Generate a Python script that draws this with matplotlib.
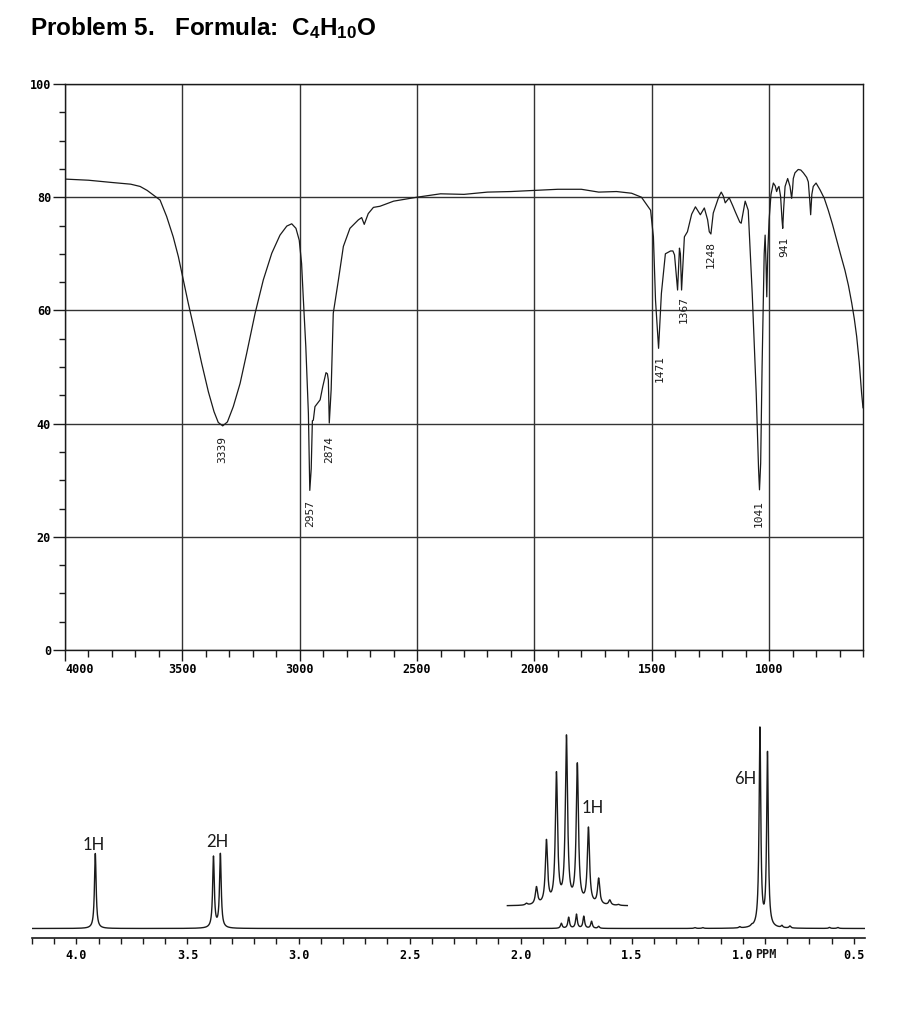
import numpy as np
import matplotlib
matplotlib.use("Agg")
import matplotlib.pyplot as plt
from matplotlib.ticker import FixedLocator, MultipleLocator
from matplotlib.transforms import blended_transform_factory

# ---------------- IR data ----------------
ir_wavenumber = [4000, 3900, 3800, 3720, 3680, 3650, 3624, 3595, 3567, 3539,
                 3517, 3499, 3475, 3446, 3418, 3389, 3365, 3347, 3328, 3308,
                 3283, 3254, 3226, 3190, 3155, 3119, 3084, 3055, 3034, 3016,
                 3002, 2992, 2985, 2974, 2963, 2957, 2951, 2946, 2942, 2935,
                 2913, 2902, 2888, 2882, 2878, 2874, 2866, 2857, 2835, 2814,
                 2786, 2750, 2736, 2725, 2708, 2686, 2658, 2600, 2500, 2400,
                 2300, 2200, 2100, 2000, 1900, 1800, 1726, 1650, 1586, 1544,
                 1505, 1493, 1484, 1471, 1459, 1442, 1420, 1410, 1403, 1390,
                 1382, 1378, 1373, 1361, 1348, 1330, 1314, 1293, 1276, 1262,
                 1255, 1248, 1238, 1215, 1204, 1195, 1187, 1170, 1155, 1144,
                 1125, 1119, 1110, 1102, 1089, 1080, 1072, 1055, 1045, 1041,
                 1036, 1030, 1021, 1017, 1013, 1010, 1006, 1000, 992, 982,
                 974, 968, 963, 958, 951, 945, 942, 938, 932, 921,
                 911, 904, 900, 897, 890, 876, 865, 854, 840, 833,
                 827, 823, 818, 812, 800, 783, 765, 748, 730, 712,
                 695, 677, 662, 648, 637, 627, 616, 606, 600]
ir_transmittance = [83.2, 83.0, 82.6, 82.3, 81.9, 81.2, 80.4, 79.5, 76.6, 73.0,
                    69.5, 66.0, 61.3, 56.0, 50.7, 45.6, 42.1, 40.2, 39.6, 40.3,
                    43.0, 47.1, 52.4, 59.5, 65.4, 70.1, 73.3, 74.9, 75.3, 74.5,
                    72.4, 68.3, 62.4, 53.6, 41.8, 28.2, 32.0, 40.5, 40.6, 43.0,
                    44.2, 46.5, 49.0, 48.8, 47.7, 40.1, 46.0, 59.5, 65.4, 71.3,
                    74.5, 76.0, 76.4, 75.2, 77.1, 78.2, 78.4, 79.3, 80.0, 80.6,
                    80.5, 80.9, 81.0, 81.2, 81.4, 81.4, 80.9, 81.0, 80.7, 80.0,
                    77.7, 73.0, 61.8, 53.3, 63.0, 70.0, 70.5, 70.5, 69.8, 63.6,
                    71.0, 70.0, 63.6, 73.0, 73.9, 77.0, 78.3, 76.9, 78.1, 76.0,
                    73.9, 73.5, 77.2, 80.0, 80.9, 80.2, 79.0, 79.9, 78.5, 77.4,
                    75.6, 75.4, 77.5, 79.3, 77.7, 70.0, 63.0, 45.4, 32.0, 28.3,
                    33.0, 50.0, 70.0, 73.3, 68.0, 62.4, 70.0, 76.0, 80.5, 82.5,
                    82.0, 81.0, 81.6, 81.9, 80.1, 76.0, 74.5, 78.0, 81.9, 83.3,
                    81.9, 79.8, 81.5, 83.3, 84.3, 84.9, 84.8, 84.3, 83.5, 82.7,
                    79.5, 76.9, 80.5, 81.9, 82.5, 81.3, 79.8, 77.7, 75.2, 72.4,
                    69.8, 67.1, 64.4, 61.3, 58.5, 55.4, 50.8, 45.4, 42.8]
ir_peak_labels = [3339, 2957, 2874, 1471, 1367, 1248, 1041, 941]
ir_peak_label_pos = [3330, 2957, 2874, 1465, 1362, 1250, 1043, 937]
ir_peak_label_top = [37.8, 26.5, 37.8, 52.2, 62.5, 72.2, 26.5, 73.0]
ir_xticks = [4000, 3500, 3000, 2500, 2000, 1500, 1000]
ir_yticks = [0, 20, 40, 60, 80, 100]

# ---------------- NMR data ----------------
nmr_peak_ppm = [3.915, 3.383, 3.352,
                1.817, 1.784, 1.749, 1.716, 1.681, 1.649,
                0.923, 0.889,
                1.216, 1.180, 1.014, 0.960, 0.824, 0.788, 0.610, 0.572]
nmr_peak_height = [75, 71, 74,
                   5, 11, 14, 12, 7, 2,
                   199, 174,
                   0.8, 0.8, 1.2, 1.2, 2.0, 2.0, 1.0, 1.0]
nmr_inset_ppm = [1.974, 1.929, 1.884, 1.839, 1.794, 1.745, 1.695, 1.649, 1.599, 1.560]
nmr_inset_height = [1.7, 17.3, 63, 129.7, 166.3, 139, 75.7, 25.7, 5.0, 1.0]
nmr_inset_span = [2.06, 1.52]
nmr_integral_text = ["1H", "2H", "1H", "6H"]
nmr_integral_ppm = [3.923, 3.365, 1.676, 0.991]
nmr_integral_y = [93, 96, 130, 159]
nmr_ticks = [4.0, 3.5, 3.0, 2.5, 2.0, 1.5, 1.0, 0.5]
nmr_ticklabels = ["4.0", "3.5", "3.0", "2.5", "2.0", "1.5", "1.0", "0.5"]

W, H = 897, 1024
fig = plt.figure(figsize=(W / 100, H / 100), dpi=100)
fig.patch.set_facecolor("white")

mono = "DejaVu Sans Mono"
ink = "#1a1a1a"

# Title
fig.text(30 / W, 1 - 28 / H, r"Problem 5.   Formula:  C$\mathregular{_4}$H$\mathregular{_{10}}$O",
         fontsize=17.5, fontweight="heavy", family="Liberation Sans", va="center", ha="left")

# ---------------- IR axes ----------------
L, R, T, B = 65, 863, 84, 650
ax = fig.add_axes([L / W, 1 - B / H, (R - L) / W, (B - T) / H])
ax.plot(ir_wavenumber, ir_transmittance, color=ink, lw=0.9)
ax.set_xlim(4000, 600)
ax.set_ylim(0, 100)
ax.xaxis.set_major_locator(FixedLocator(ir_xticks))
ax.xaxis.set_minor_locator(FixedLocator([w for w in range(4000, 599, -100) if w not in ir_xticks]))
ax.yaxis.set_major_locator(FixedLocator(ir_yticks))
ax.yaxis.set_minor_locator(MultipleLocator(5))
ax.set_xticklabels([str(v) for v in ir_xticks], family=mono, fontsize=8.5, fontweight="bold")
ax.set_yticklabels([str(v) for v in ir_yticks], family=mono, fontsize=8.5, fontweight="bold")
ax.tick_params(axis="x", which="major", direction="out", length=8, width=1, pad=1.5, color=ink)
ax.tick_params(axis="x", which="minor", direction="out", length=5, width=1, color=ink)
ax.tick_params(axis="y", which="major", direction="out", length=9, width=1, pad=1, color=ink)
ax.tick_params(axis="y", which="minor", direction="out", length=4.5, width=1, color=ink)
xt = ax.get_xticklabels()
xt[0].set_horizontalalignment("left")
ax.grid(True, which="major", color="#333333", lw=1.0)
for s in ax.spines.values():
    s.set_color(ink)
    s.set_linewidth(1.0)
for lab, xp, yt in zip(ir_peak_labels, ir_peak_label_pos, ir_peak_label_top):
    ax.text(xp, yt, str(lab), rotation=90, ha="center", va="top",
            family=mono, fontsize=8, color=ink)

# ---------------- NMR axes ----------------
NL, NR, NT, NB = 32, 865, 700, 938
nx = fig.add_axes([NL / W, 1 - NB / H, (NR - NL) / W, (NB - NT) / H])
ppm = np.linspace(4.2, 0.45, 6000)
baseline = 9.5
gamma = 0.0045
spec = np.full_like(ppm, baseline)
for p, h in zip(nmr_peak_ppm, nmr_peak_height):
    spec += h * gamma**2 / ((ppm - p) ** 2 + gamma**2)
nx.plot(ppm, spec, color=ink, lw=1.0)

inset_base = 32
ig = 0.006
ippm = np.linspace(nmr_inset_span[0], nmr_inset_span[1], 1500)
ispec = np.full_like(ippm, inset_base)
for p, h in zip(nmr_inset_ppm, nmr_inset_height):
    ispec += h * ig**2 / ((ippm - p) ** 2 + ig**2)
nx.plot(ippm, ispec, color=ink, lw=1.0)

for t, p, y in zip(nmr_integral_text, nmr_integral_ppm, nmr_integral_y):
    nx.text(p, y, t, ha="center", va="center", family="Lato", fontsize=12, color=ink)

nx.set_xlim(4.2, 0.45)
nx.set_ylim(0, NB - NT)
for k in ["left", "right", "top"]:
    nx.spines[k].set_visible(False)
nx.spines["bottom"].set_color(ink)
nx.spines["bottom"].set_linewidth(1.2)
nx.set_yticks([])
nx.xaxis.set_major_locator(FixedLocator(nmr_ticks))
nx.xaxis.set_minor_locator(MultipleLocator(0.1))
nx.set_xticklabels(nmr_ticklabels, family=mono, fontsize=8.5, fontweight="bold")
nx.tick_params(axis="x", which="both", direction="out", length=4, width=1, pad=4, color=ink)
trans = blended_transform_factory(nx.transData, nx.transAxes)
nx.text(0.946, -17 / (NB - NT), "PPM", transform=trans, ha="left", va="center",
        family=mono, fontsize=8.5, fontweight="bold", color=ink)

fig.savefig("out.png", dpi=100, facecolor="white")
